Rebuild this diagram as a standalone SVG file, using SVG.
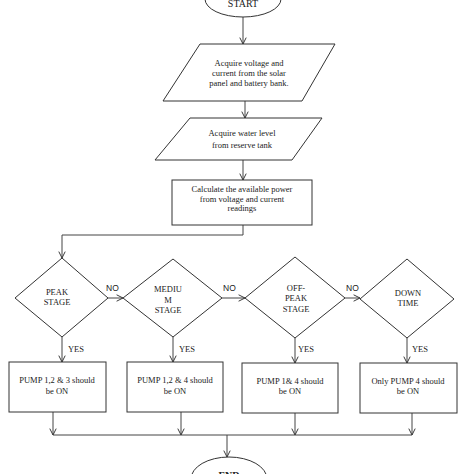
<svg xmlns="http://www.w3.org/2000/svg" width="474" height="474" viewBox="0 0 474 474">
<defs>
<style>
.s{fill:#fff;stroke:#333;stroke-width:1}
.c{fill:none;stroke:#444;stroke-width:1}
.t{font-family:"Liberation Serif","Times New Roman",serif;font-size:8.5px;fill:#222;text-anchor:middle}
.d{font-family:"Liberation Serif","Times New Roman",serif;font-size:8.5px;fill:#222;text-anchor:middle}
.l{font-family:"Liberation Sans",Arial,sans-serif;font-size:8.5px;fill:#222}
</style>
<marker id="a" viewBox="0 0 10 10" refX="9" refY="5" markerWidth="8" markerHeight="8" orient="auto" markerUnits="userSpaceOnUse">
<path d="M1,1 L9,5 L1,9" fill="none" stroke="#333" stroke-width="1.2"/>
</marker>
</defs>
<rect width="474" height="474" fill="#fff"/>
<g id="connectors">
<path class="c" d="M243,17 V44" marker-end="url(#a)"/>
<path class="c" d="M245,101 V118" marker-end="url(#a)"/>
<path class="c" d="M243,160 V180" marker-end="url(#a)"/>
<path class="c" d="M243,225 V235 H62 V258" marker-end="url(#a)"/>
<path class="c" d="M108,298 H123" marker-end="url(#a)"/>
<path class="c" d="M222,298 H245" marker-end="url(#a)"/>
<path class="c" d="M345,298 H360" marker-end="url(#a)"/>
<path class="c" d="M62,337 V362" marker-end="url(#a)"/>
<path class="c" d="M173,337 V362" marker-end="url(#a)"/>
<path class="c" d="M295,338 V363" marker-end="url(#a)"/>
<path class="c" d="M407,338 V363" marker-end="url(#a)"/>
<path class="c" d="M53,412 V435" marker-end="url(#a)"/>
<path class="c" d="M181,412 V435" marker-end="url(#a)"/>
<path class="c" d="M295,413 V435" marker-end="url(#a)"/>
<path class="c" d="M412,413 V435" marker-end="url(#a)"/>
<path class="c" d="M53,435 H412"/>
<path class="c" d="M227,435 V457" marker-end="url(#a)"/>
<text class="l" x="106" y="291">NO</text>
<text class="l" x="223" y="291">NO</text>
<text class="l" x="346" y="291">NO</text>
<text class="d" x="76" y="352">YES</text>
<text class="d" x="187" y="352">YES</text>
<text class="d" x="306" y="352">YES</text>
<text class="d" x="420" y="352">YES</text>
</g>
<g id="start">
<ellipse class="s" cx="243" cy="-1" rx="38" ry="18"/>
<text class="t" x="243" y="7" style="font-size:10px">START</text>
</g>
<g id="acquire-voltage">
<polygon class="s" points="200,44 335,44 302,101 163,101"/>
<text class="t" x="249" y="66">Acquire voltage and</text>
<text class="t" x="249" y="76">current from the solar</text>
<text class="t" x="249" y="86">panel and battery bank.</text>
</g>
<g id="acquire-water">
<polygon class="s" points="190,118 322,118 292,160 155,160"/>
<text class="t" x="242" y="136">Acquire water level</text>
<text class="t" x="242" y="148">from reserve tank</text>
</g>
<g id="calculate">
<rect class="s" x="172" y="180" width="140" height="45"/>
<text class="t" x="242" y="192">Calculate the available power</text>
<text class="t" x="242" y="202">from voltage and current</text>
<text class="t" x="242" y="211">readings</text>
</g>
<g id="peak">
<polygon class="s" points="62,258 108,298 62,337 15,298"/>
<text class="d" x="57" y="295">PEAK</text>
<text class="d" x="57" y="305">STAGE</text>
</g>
<g id="medium">
<polygon class="s" points="173,259 222,298 173,337 123,298"/>
<text class="d" x="168" y="292">MEDIU</text>
<text class="d" x="168" y="303">M</text>
<text class="d" x="168" y="313">STAGE</text>
</g>
<g id="offpeak">
<polygon class="s" points="295,257 345,298 295,338 245,298"/>
<text class="d" x="296" y="291">OFF-</text>
<text class="d" x="296" y="301">PEAK</text>
<text class="d" x="296" y="312">STAGE</text>
</g>
<g id="downtime">
<polygon class="s" points="407,259 454,299 407,338 360,299"/>
<text class="d" x="408" y="296">DOWN</text>
<text class="d" x="408" y="306">TIME</text>
</g>
<g id="pump123">
<rect class="s" x="9" y="362" width="97" height="50"/>
<text class="t" x="57" y="383">PUMP 1,2 &amp; 3 should</text>
<text class="t" x="57" y="394">be ON</text>
</g>
<g id="pump124">
<rect class="s" x="127" y="362" width="96" height="50"/>
<text class="t" x="175" y="383">PUMP 1,2 &amp; 4 should</text>
<text class="t" x="175" y="394">be ON</text>
</g>
<g id="pump14">
<rect class="s" x="242" y="363" width="96" height="50"/>
<text class="t" x="290" y="384">PUMP 1&amp; 4 should</text>
<text class="t" x="290" y="394">be ON</text>
</g>
<g id="pump4">
<rect class="s" x="360" y="363" width="97" height="50"/>
<text class="t" x="408" y="384">Only PUMP 4 should</text>
<text class="t" x="408" y="394">be ON</text>
</g>
<g id="end">
<ellipse class="s" cx="229" cy="479" rx="38" ry="22"/>
<text class="t" x="229" y="479" style="font-size:10px;font-weight:bold">END</text>
</g>
</svg>
